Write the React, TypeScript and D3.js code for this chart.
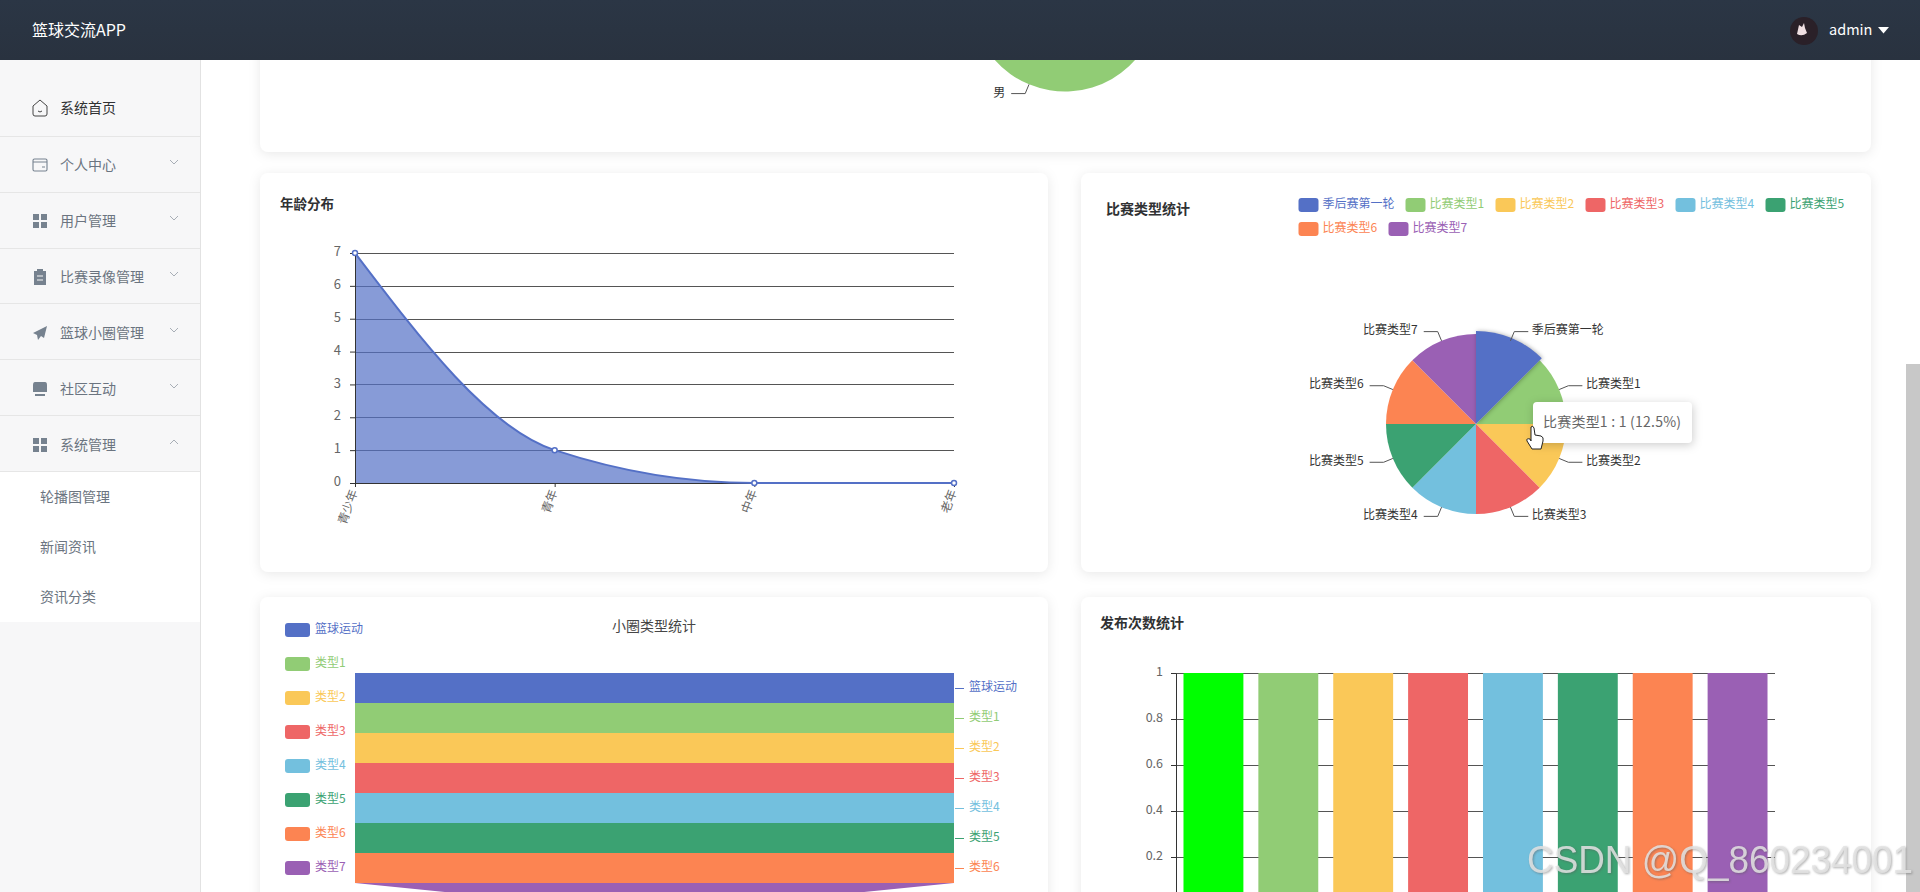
import { useRef, useEffect } from 'react';
import * as d3 from 'd3';

const palette = ['#5470c6', '#91cc75', '#fac858', '#ee6666', '#73c0de', '#3ba272', '#fc8452', '#9a60b4'];
const fontFamily = '"Noto Sans CJK SC", "Noto Sans", sans-serif';

const menuLabels = ['系统首页', '个人中心', '用户管理', '比赛录像管理', '篮球小圈管理', '社区互动', '系统管理'];
const menuIcons = ['home', 'card', 'grid', 'clip', 'plane', 'chat', 'grid'];
const subMenuLabels = ['轮播图管理', '新闻资讯', '资讯分类'];

const genderLabels = ['女', '男'];
const genderValues = [1, 7];

const ageLabels = ['青少年', '青年', '中年', '老年'];
const ageValues = [7, 1, 0, 0];
const ageTicks = [0, 1, 2, 3, 4, 5, 6, 7];

const matchLabels = ['季后赛第一轮', '比赛类型1', '比赛类型2', '比赛类型3', '比赛类型4', '比赛类型5', '比赛类型6', '比赛类型7'];
const matchValues = [1, 1, 1, 1, 1, 1, 1, 1];

const circleLabels = ['篮球运动', '类型1', '类型2', '类型3', '类型4', '类型5', '类型6', '类型7'];
const circleValues = [1, 1, 1, 1, 1, 1, 1, 1];

const postCategories = ['篮球运动', '类型1', '类型2', '类型3', '类型4', '类型5', '类型6', '类型7'];
const postValues = [1, 1, 1, 1, 1, 1, 1, 1];
const postColors = ['#00ff00', '#91cc75', '#fac858', '#ee6666', '#73c0de', '#3ba272', '#fc8452', '#9a60b4'];
const postTicks = [0, 0.2, 0.4, 0.6, 0.8, 1];

type Sel = d3.Selection<any, unknown, null, undefined>;

function addText(g: Sel, x: number, y: number, value: string, size: number, fill: string, weight = 'normal', anchor = 'start') {
  return g.append('text')
    .attr('x', x)
    .attr('y', y)
    .attr('dy', '0.35em')
    .attr('text-anchor', anchor)
    .style('font-size', `${size}px`)
    .style('font-weight', weight)
    .style('fill', fill)
    .text(value);
}

function drawIcon(g: Sel, name: string, x: number, y: number, color: string) {
  const icon = g.append('g').attr('transform', `translate(${x}, ${y})`);
  if (name === 'home') {
    icon.append('path').attr('d', 'M-7,-2 L0,-8 L7,-2 L7,6 Q7,8 5,8 L-5,8 Q-7,8 -7,6 Z M-2,3 Q0,5 2,3')
      .attr('fill', 'none').attr('stroke', '#444').attr('stroke-width', 1);
  } else if (name === 'card') {
    icon.append('rect').attr('x', -7).attr('y', -6).attr('width', 14).attr('height', 12).attr('rx', 1.5)
      .attr('fill', 'none').attr('stroke', color).attr('stroke-width', 1.1);
    icon.append('path').attr('d', 'M-7,-3 L7,-3 M2,2 L5,2').attr('stroke', color).attr('stroke-width', 1);
  } else if (name === 'grid') {
    [[-7, -7], [1, -7], [-7, 1], [1, 1]].forEach(([a, b]) => {
      icon.append('rect').attr('x', a).attr('y', b).attr('width', 6).attr('height', 6).attr('fill', color);
    });
  } else if (name === 'clip') {
    icon.append('path').attr('d', 'M-6,-6 L-3,-6 L-3,-8 L3,-8 L3,-6 L6,-6 L6,8 L-6,8 Z').attr('fill', color);
    icon.append('path').attr('d', 'M-3,-1 L3,-1 M-3,3 L3,3').attr('stroke', '#f7f7f8').attr('stroke-width', 1.2);
  } else if (name === 'plane') {
    icon.append('path').attr('d', 'M7,-7 L-7,0 L-3,2 L-2,7 L1,3 L4,5 Z').attr('fill', color);
  } else {
    icon.append('path').attr('d', 'M-5,-7 L5,-7 Q7,-7 7,-4 L7,3 L-7,3 L-7,-4 Q-7,-7 -5,-7 Z').attr('fill', color);
    icon.append('rect').attr('x', -5).attr('y', 5).attr('width', 10).attr('height', 2).attr('fill', color);
  }
}

export default function App() {
  const svgRef = useRef<SVGSVGElement>(null);

  useEffect(() => {
    const svg = d3.select(svgRef.current) as unknown as Sel;
    svg.selectAll('*').remove();
    svg.style('font-family', fontFamily);

    svg.append('rect').attr('width', 1920).attr('height', 892).attr('fill', '#ffffff');

    // cards
    const cards = svg.append('g').attr('fill', '#ffffff')
      .style('filter', 'drop-shadow(0 2px 6px rgba(0,0,0,0.09))');
    [[260, -200, 1611, 352], [260, 173, 788, 399], [1081, 173, 790, 399], [260, 597, 788, 500], [1081, 597, 790, 500]]
      .forEach(([x, y, w, h]) => {
        cards.append('rect').attr('x', x).attr('y', y).attr('width', w).attr('height', h).attr('rx', 8);
      });

    // gender pie, mostly scrolled away under the header
    const pieGen = d3.pie<number>().sort(null).value(d => d);
    const genderG = svg.append('g').attr('transform', 'translate(1065, -2.5)');
    const genderArc = d3.arc<d3.PieArcDatum<number>>().innerRadius(0).outerRadius(94);
    pieGen(genderValues).forEach((slice, i) => {
      genderG.append('path').attr('d', genderArc(slice)).attr('fill', palette[i]);
      const mid = (slice.startAngle + slice.endAngle) / 2;
      const p0 = [Math.sin(mid) * 94, -Math.cos(mid) * 94];
      const p1 = [Math.sin(mid) * 104, -Math.cos(mid) * 104];
      const dir = Math.sin(mid) >= 0 ? 1 : -1;
      const p2 = [p1[0] + dir * 14, p1[1]];
      // the label of the other slice sits behind the header, only draw what can be seen
      if (p1[1] < 0) return;
      genderG.append('polyline').attr('points', [p0, p1, p2].join(' '))
        .attr('fill', 'none').attr('stroke', '#555').attr('stroke-width', 1);
      addText(genderG, p2[0] + dir * 6, p2[1] - 1, genderLabels[i], 12, '#333', 'normal', dir > 0 ? 'start' : 'end');
    });

    // age area chart
    const ageG = svg.append('g');
    addText(ageG, 280, 204, '年龄分布', 13.5, '#303133', 'bold');
    const ageX = d3.scalePoint<string>().domain(ageLabels).range([355, 954]);
    const ageY = d3.scaleLinear().domain([0, 7]).range([483, 253]);
    ageTicks.forEach(t => {
      ageG.append('line').attr('x1', 355).attr('x2', 954).attr('y1', Math.round(ageY(t)) + 0.5).attr('y2', Math.round(ageY(t)) + 0.5)
        .attr('stroke', '#555').attr('stroke-width', 1);
    });
    const ageArea = d3.area<number>()
      .x((_, i) => ageX(ageLabels[i]) as number)
      .y0(ageY(0))
      .y1(d => ageY(d))
      .curve(d3.curveMonotoneX);
    const ageLine = d3.line<number>()
      .x((_, i) => ageX(ageLabels[i]) as number)
      .y(d => ageY(d))
      .curve(d3.curveMonotoneX);
    ageG.append('path').attr('d', ageArea(ageValues)).attr('fill', palette[0]).attr('opacity', 0.7);
    const ageAxisY = ageG.append('g').attr('transform', 'translate(355, 0)')
      .call(d3.axisLeft(ageY).tickValues(ageTicks).tickSize(5).tickSizeOuter(0).tickFormat(d3.format('d') as any));
    ageAxisY.selectAll('text').style('font-size', '13px').style('fill', '#666').attr('font-family', fontFamily).attr('x', -14).attr('y', -1.5);
    ageAxisY.selectAll('line,path').attr('stroke', '#333');
    const ageAxisX = ageG.append('g').attr('transform', 'translate(0, 483)')
      .call(d3.axisBottom(ageX).tickSize(4).tickSizeOuter(0));
    ageAxisX.selectAll('line,path').attr('stroke', '#333');
    ageAxisX.selectAll('text')
      .attr('font-family', fontFamily)
      .style('font-size', '12px')
      .style('fill', '#666')
      .style('text-anchor', 'end')
      .attr('dx', 0)
      .attr('dy', '0.35em')
      .attr('x', 0)
      .attr('y', 0)
      .attr('transform', 'translate(-1.5, 7) rotate(-70)');
    ageG.append('path').attr('d', ageLine(ageValues)).attr('fill', 'none').attr('stroke', palette[0]).attr('stroke-width', 2);
    ageValues.forEach((v, i) => {
      ageG.append('circle').attr('cx', ageX(ageLabels[i]) as number).attr('cy', ageY(v)).attr('r', 2.5)
        .attr('fill', '#fff').attr('stroke', palette[0]).attr('stroke-width', 1.5);
    });

    // match type pie
    const matchG = svg.append('g');
    addText(matchG, 1106, 209, '比赛类型统计', 14, '#303133', 'bold');
    let legendX = 1298.5;
    let legendY = 205;
    matchLabels.forEach((name, i) => {
      const textWidth = name.replace(/\d/g, '').length * 12 + (/\d/.test(name) ? 7 : 0);
      if (legendX + 24 + textWidth > 1850) {
        legendX = 1298.5;
        legendY = 229;
      }
      matchG.append('rect').attr('x', legendX).attr('y', legendY - 7).attr('width', 20).attr('height', 14).attr('rx', 3).attr('fill', palette[i]);
      addText(matchG, legendX + 24, legendY - 1, name, 12, palette[i]);
      legendX += 24 + textWidth + 11;
    });
    const pieCenter = [1476, 424];
    const pieG = matchG.append('g').attr('transform', `translate(${pieCenter[0]}, ${pieCenter[1]})`);
    const matchArc = d3.arc<d3.PieArcDatum<number>>().innerRadius(0).outerRadius(90);
    const matchArcHover = d3.arc<d3.PieArcDatum<number>>().innerRadius(0).outerRadius(93);
    const matchSlices = pieGen(matchValues);
    matchSlices.slice(1).forEach((slice, i) => {
      pieG.append('path').attr('d', matchArc(slice)).attr('fill', palette[i + 1]);
    });
    pieG.append('path').attr('d', matchArcHover(matchSlices[0])).attr('fill', palette[0])
      .style('filter', 'drop-shadow(1px 0 2px rgba(0,0,0,0.3))');
    matchSlices.forEach((slice, i) => {
      const mid = (slice.startAngle + slice.endAngle) / 2;
      const p0 = [Math.sin(mid) * 90, -Math.cos(mid) * 90];
      const p1 = [Math.sin(mid) * 100, -Math.cos(mid) * 100];
      const dir = Math.sin(mid) >= 0 ? 1 : -1;
      const p2 = [p1[0] + dir * 14, p1[1]];
      pieG.append('polyline').attr('points', [p0, p1, p2].join(' '))
        .attr('fill', 'none').attr('stroke', '#555').attr('stroke-width', 1);
      addText(pieG, p2[0] + dir * (dir > 0 ? 3.5 : 6), p2[1] - 1.5, matchLabels[i], 12, '#333', 'normal', dir > 0 ? 'start' : 'end');
    });

    // tooltip
    const tip = matchG.append('g');
    tip.append('rect').attr('x', 1533).attr('y', 402).attr('width', 159).attr('height', 41).attr('rx', 4)
      .attr('fill', '#fff').style('filter', 'drop-shadow(1px 2px 5px rgba(0,0,0,0.2))');
    addText(tip, 1543, 422, `${matchLabels[1]} : ${matchValues[1]} (12.5%)`, 14, '#666')
      .attr('textLength', 138);
    tip.append('path')
      .attr('d', 'M1531,427 Q1533,425 1534,428 L1535,435 L1541,436 Q1544,437 1543,441 L1541,449 L1532,449 L1527,441 Q1526,438 1530,439 L1531,441 Z')
      .attr('fill', '#fff').attr('stroke', '#222').attr('stroke-width', 1);

    // funnel
    const funnelG = svg.append('g');
    addText(funnelG, 654, 626, '小圈类型统计', 14, '#464646', 'normal', 'middle');
    const legendScale = d3.scalePoint<string>().domain(circleLabels).range([630, 868]);
    circleLabels.forEach((name, i) => {
      const y = legendScale(name) as number;
      funnelG.append('rect').attr('x', 285).attr('y', y - 7).attr('width', 25).attr('height', 14).attr('rx', 3).attr('fill', palette[i]);
      addText(funnelG, 315, y - 1, name, 12, palette[i]);
    });
    const funnelY = d3.scaleBand<string>().domain(circleLabels).range([673, 913]);
    const funnelW = d3.scaleLinear().domain([0, 1]).range([0, 599]);
    const funnelCx = 654.5;
    const funnelPath = d3.line<[number, number]>();
    circleLabels.forEach((name, i) => {
      const top = funnelY(name) as number;
      const bottom = top + funnelY.bandwidth();
      const wTop = funnelW(circleValues[i]);
      const wBottom = funnelW(i + 1 < circleValues.length ? circleValues[i + 1] : 0);
      funnelG.append('path')
        .attr('d', funnelPath([
          [funnelCx - wTop / 2, top],
          [funnelCx + wTop / 2, top],
          [funnelCx + wBottom / 2, bottom],
          [funnelCx - wBottom / 2, bottom],
        ]) + 'Z')
        .attr('fill', palette[i]);
      const labelY = top + funnelY.bandwidth() / 2;
      // the last label falls below the fold
      if (labelY > 885) return;
      funnelG.append('line').attr('x1', funnelCx + wTop / 2 + 1).attr('x2', funnelCx + wTop / 2 + 10)
        .attr('y1', labelY + 0.5).attr('y2', labelY + 0.5).attr('stroke', palette[i]);
      addText(funnelG, funnelCx + wTop / 2 + 15, labelY - 1, name, 12, palette[i]);
    });

    // post count bars
    const barG = svg.append('g');
    addText(barG, 1100, 623, '发布次数统计', 14, '#303133', 'bold');
    const barX = d3.scaleBand<string>().domain(postCategories).range([1176, 1775]).paddingInner(0.2).paddingOuter(0.1);
    const barY = d3.scaleLinear().domain([0, 1]).range([903, 673]);
    postTicks.forEach(t => {
      barG.append('line').attr('x1', 1176).attr('x2', 1775).attr('y1', Math.round(barY(t)) + 0.5).attr('y2', Math.round(barY(t)) + 0.5)
        .attr('stroke', '#555').attr('stroke-width', 1);
    });
    const barAxis = barG.append('g').attr('transform', 'translate(1176, 0)')
      .call(d3.axisLeft(barY).tickValues(postTicks).tickSize(5).tickSizeOuter(0).tickFormat(d => String(d)));
    barAxis.selectAll('text').style('font-size', '12.5px').style('fill', '#666').attr('font-family', fontFamily).attr('x', -13).attr('y', -1.5);
    barAxis.selectAll('line,path').attr('stroke', '#333');
    barG.selectAll('rect.bar').data(postValues).enter().append('rect')
      .attr('class', 'bar')
      .attr('x', (_, i) => barX(postCategories[i]) as number)
      .attr('y', d => barY(d))
      .attr('width', barX.bandwidth())
      .attr('height', d => barY(0) - barY(d))
      .attr('fill', (_, i) => postColors[i]);

    // sidebar
    const side = svg.append('g');
    side.append('rect').attr('x', 0).attr('y', 60).attr('width', 200).attr('height', 832).attr('fill', '#f7f7f8');
    side.append('rect').attr('x', 0).attr('y', 472).attr('width', 200).attr('height', 150).attr('fill', '#ffffff');
    side.append('line').attr('x1', 200.5).attr('x2', 200.5).attr('y1', 60).attr('y2', 892).attr('stroke', '#e2e2e2');
    menuLabels.forEach((name, i) => {
      const mid = 108 + i * 56;
      const active = i === 0;
      drawIcon(side, menuIcons[i], 40, mid + (active ? 0 : 1), '#76828f');
      addText(side, 60, active ? mid : mid + 1, name, 14, active ? '#303133' : '#6b7480');
      const rule = Math.round(136 + i * 55.8) + 0.5;
      side.append('line').attr('x1', 0).attr('x2', 200).attr('y1', rule).attr('y2', rule).attr('stroke', '#e6e6e6');
      if (i > 0) {
        const chevron = i === menuLabels.length - 1 ? 'M-4,2 L0,-2 L4,2' : 'M-4,-2 L0,2 L4,-2';
        side.append('path').attr('transform', `translate(174, ${mid - 2})`).attr('d', chevron)
          .attr('fill', 'none').attr('stroke', '#a8aeb6').attr('stroke-width', 1);
      }
    });
    subMenuLabels.forEach((name, i) => {
      addText(side, 40, 497 + i * 50, name, 14, '#6b7480');
    });

    // header
    const defs = svg.append('defs');
    const grad = defs.append('linearGradient').attr('id', 'headerBg').attr('x1', 0).attr('x2', 0).attr('y1', 0).attr('y2', 1);
    grad.append('stop').attr('offset', '0%').attr('stop-color', '#2b3645');
    grad.append('stop').attr('offset', '100%').attr('stop-color', '#29323f');
    const head = svg.append('g');
    head.append('rect').attr('width', 1920).attr('height', 60).attr('fill', 'url(#headerBg)');
    addText(head, 32, 30, '篮球交流APP', 16, '#ffffff');
    head.append('circle').attr('cx', 1804).attr('cy', 31).attr('r', 14).attr('fill', '#2a2028');
    head.append('path').attr('d', 'M1797,34 L1799,25 L1802,27 L1804,23 L1805,28 L1807,33 Q1802,37 1797,34 Z').attr('fill', '#f0dfe2');
    addText(head, 1829, 30, 'admin', 14.5, '#ffffff');
    head.append('path').attr('d', 'M1878,27 L1889,27 L1883.5,33.5 Z').attr('fill', '#ffffff');

    // scrollbar
    svg.append('rect').attr('x', 1906).attr('y', 364).attr('width', 14).attr('height', 528).attr('fill', '#c8c8c8');

    // watermark
    svg.append('text')
      .attr('x', 1527)
      .attr('y', 873)
      .attr('textLength', 386)
      .attr('lengthAdjust', 'spacingAndGlyphs')
      .style('font-family', '"Liberation Sans", Arial, sans-serif')
      .style('font-size', '38px')
      .style('fill', 'rgba(228,228,228,0.85)')
      .style('filter', 'drop-shadow(1px 1px 1px rgba(90,90,90,0.55))')
      .text('CSDN @Q_860234001');
  }, []);

  return <svg ref={svgRef} width={1920} height={892} style={{ position: 'fixed', left: 0, top: 0 }} />;
}
